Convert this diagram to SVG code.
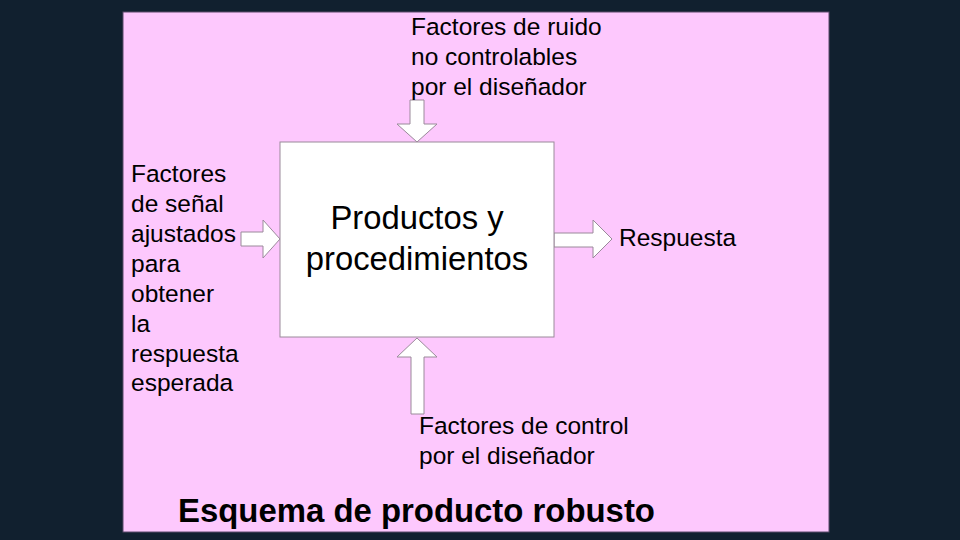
<svg xmlns="http://www.w3.org/2000/svg" width="960" height="540" viewBox="0 0 960 540">
<style>
.t{font-family:"Liberation Sans",Arial,sans-serif;font-size:24.5px;fill:#000}
.arr{fill:#fff;stroke:#9a8a9a;stroke-width:1}
</style>
<rect width="960" height="540" fill="#11202f"/>
<rect x="123" y="12" width="706" height="520" fill="#fdc8fd" stroke="#5a4a6a" stroke-width="1"/>
<g id="connectors">
<path class="arr" d="M410,100 H424 V124 H437 L417,142 L397,124 H410 Z"/>
<path class="arr" d="M411,414 H424 V357 H437 L417,338 L397,357 H411 Z"/>
<path class="arr" d="M241,232 H263 V220 L280,239 L263,258 V246 H241 Z"/>
<path class="arr" d="M554,233 H593 V220 L612,239 L593,258 V247 H554 Z"/>
</g>
<g id="main">
<rect x="280" y="142" width="274" height="195" fill="#fff" stroke="#9a8a9a"/>
<text x="417" y="229" text-anchor="middle" style="font-family:'Liberation Sans',Arial,sans-serif;font-size:32.8px">Productos y</text>
<text x="417" y="270" text-anchor="middle" style="font-family:'Liberation Sans',Arial,sans-serif;font-size:32.8px">procedimientos</text>
</g>
<g id="ruido">
<text class="t" x="411" y="35">Factores de ruido</text>
<text class="t" x="411" y="65">no controlables</text>
<text class="t" x="411" y="95">por el diseñador</text>
</g>
<g id="senal">
<text class="t" x="131" y="182">Factores</text>
<text class="t" x="131" y="212">de señal</text>
<text class="t" x="131" y="242">ajustados</text>
<text class="t" x="131" y="272">para</text>
<text class="t" x="131" y="302">obtener</text>
<text class="t" x="131" y="332">la</text>
<text class="t" x="131" y="362">respuesta</text>
<text class="t" x="131" y="391">esperada</text>
</g>
<g id="respuesta">
<text class="t" x="619" y="246">Respuesta</text>
</g>
<g id="control">
<text class="t" x="419" y="434">Factores de control</text>
<text class="t" x="419" y="464">por el diseñador</text>
</g>
<text x="178" y="522" style="font-family:'Liberation Sans',Arial,sans-serif;font-size:32.9px;font-weight:bold">Esquema de producto robusto</text>
</svg>
